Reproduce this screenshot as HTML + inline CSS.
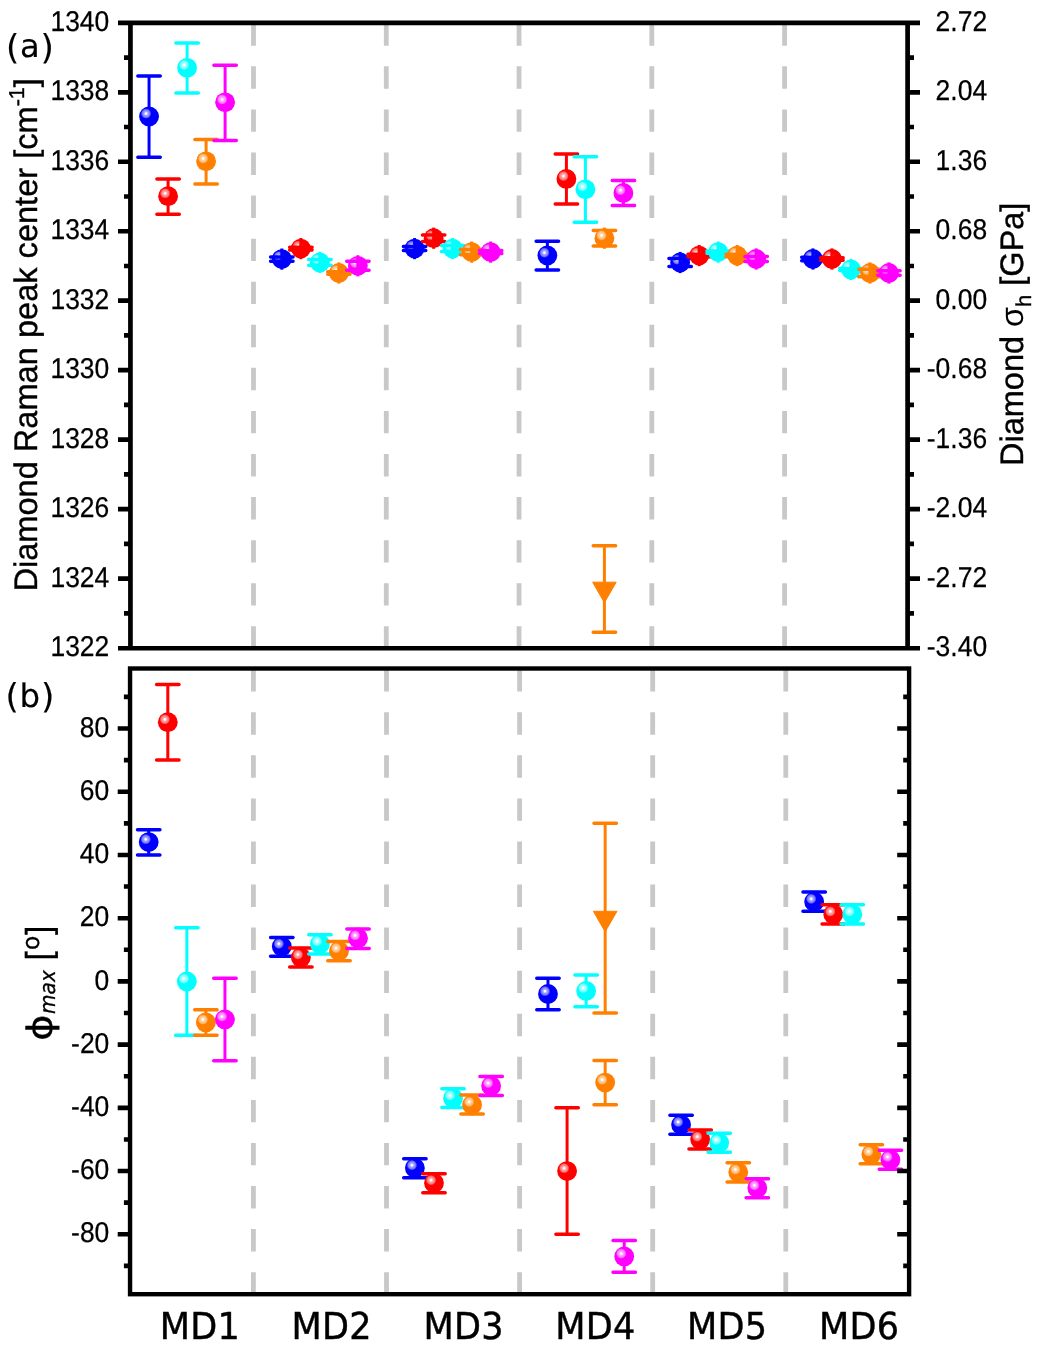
<!DOCTYPE html>
<html lang="en"><head><meta charset="utf-8"><title>Diamond Raman peak center and phi max</title>
<style>html,body{margin:0;padding:0;background:#fff}svg{display:block}.a{font-family:"Liberation Sans",Arial,sans-serif}.d{font-family:"DejaVu Sans",Verdana,sans-serif}</style></head><body>
<svg width="1042" height="1348" viewBox="0 0 1042 1348" text-rendering="geometricPrecision">
<defs><radialGradient id="hl" cx="0.5" cy="0.5" r="0.5"><stop offset="0" stop-color="#fff" stop-opacity="1"/><stop offset="0.13" stop-color="#fff" stop-opacity="1"/><stop offset="0.36" stop-color="#fff" stop-opacity="0.66"/><stop offset="0.72" stop-color="#fff" stop-opacity="0.47"/><stop offset="1" stop-color="#fff" stop-opacity="0"/></radialGradient></defs>
<rect width="1042" height="1348" fill="#fff"/>
<g stroke="#c8c8c8" stroke-width="4.8" stroke-dasharray="22.4 20.67" fill="none">
<path d="M253.5 23.3V648.25"/>
<path d="M253.41 669.2V1294.2"/>
<path d="M386.27 23.3V648.25"/>
<path d="M386.5 669.2V1294.2"/>
<path d="M519.04 23.3V648.25"/>
<path d="M519.6 669.2V1294.2"/>
<path d="M651.81 23.3V648.25"/>
<path d="M652.69 669.2V1294.2"/>
<path d="M784.58 23.3V648.25"/>
<path d="M785.78 669.2V1294.2"/>
</g>
<g id="top-data">
<path d="M149.05 76V157.2" stroke="#0000ff" stroke-width="3" fill="none"/><path d="M137.85 76H160.25 M137.85 157.2H160.25" stroke="#0000ff" stroke-width="3.5" stroke-linecap="round" fill="none"/><circle cx="149.05" cy="116.4" r="9.9" fill="#0000ff"/><circle cx="146.1" cy="113.55" r="5.3" fill="url(#hl)"/>
<circle cx="281.82" cy="259.1" r="9.9" fill="#0000ff"/><circle cx="278.87" cy="256.25" r="5.3" fill="url(#hl)"/><path d="M281.82 248.5V269.7" stroke="#0000ff" stroke-width="3" fill="none"/><path d="M270.62 257.05H293.02 M270.62 261.15H293.02" stroke="#0000ff" stroke-width="3.5" stroke-linecap="round" fill="none"/>
<circle cx="414.59" cy="248.6" r="9.9" fill="#0000ff"/><circle cx="411.64" cy="245.75" r="5.3" fill="url(#hl)"/><path d="M414.59 238V259.2" stroke="#0000ff" stroke-width="3" fill="none"/><path d="M403.39 246.6H425.79 M403.39 250.6H425.79" stroke="#0000ff" stroke-width="3.5" stroke-linecap="round" fill="none"/>
<path d="M547.36 241.3V270.1" stroke="#0000ff" stroke-width="3" fill="none"/><path d="M536.16 241.3H558.56 M536.16 270.1H558.56" stroke="#0000ff" stroke-width="3.5" stroke-linecap="round" fill="none"/><circle cx="547.36" cy="255.5" r="9.9" fill="#0000ff"/><circle cx="544.41" cy="252.65" r="5.3" fill="url(#hl)"/>
<circle cx="680.13" cy="262.5" r="9.9" fill="#0000ff"/><circle cx="677.18" cy="259.65" r="5.3" fill="url(#hl)"/><path d="M680.13 251.9V273.1" stroke="#0000ff" stroke-width="3" fill="none"/><path d="M668.93 258.4H691.33 M668.93 266.6H691.33" stroke="#0000ff" stroke-width="3.5" stroke-linecap="round" fill="none"/>
<circle cx="812.9" cy="259" r="9.9" fill="#0000ff"/><circle cx="809.95" cy="256.15" r="5.3" fill="url(#hl)"/><path d="M812.9 248.4V269.6" stroke="#0000ff" stroke-width="3" fill="none"/><path d="M801.7 257.3H824.1 M801.7 260.7H824.1" stroke="#0000ff" stroke-width="3.5" stroke-linecap="round" fill="none"/>
<path d="M168.1 179V214.3" stroke="#ff0000" stroke-width="3" fill="none"/><path d="M156.9 179H179.3 M156.9 214.3H179.3" stroke="#ff0000" stroke-width="3.5" stroke-linecap="round" fill="none"/><circle cx="168.1" cy="196.2" r="9.9" fill="#ff0000"/><circle cx="165.15" cy="193.35" r="5.3" fill="url(#hl)"/>
<circle cx="300.87" cy="248.6" r="9.9" fill="#ff0000"/><circle cx="297.92" cy="245.75" r="5.3" fill="url(#hl)"/><path d="M300.87 238V259.2" stroke="#ff0000" stroke-width="3" fill="none"/><path d="M289.67 247.2H312.07 M289.67 250H312.07" stroke="#ff0000" stroke-width="3.5" stroke-linecap="round" fill="none"/>
<circle cx="433.64" cy="238.2" r="9.9" fill="#ff0000"/><circle cx="430.69" cy="235.35" r="5.3" fill="url(#hl)"/><path d="M433.64 227.6V248.8" stroke="#ff0000" stroke-width="3" fill="none"/><path d="M422.44 234.9H444.84 M422.44 241.5H444.84" stroke="#ff0000" stroke-width="3.5" stroke-linecap="round" fill="none"/>
<path d="M566.41 154.05V203.9" stroke="#ff0000" stroke-width="3" fill="none"/><path d="M555.21 154.05H577.61 M555.21 203.9H577.61" stroke="#ff0000" stroke-width="3.5" stroke-linecap="round" fill="none"/><circle cx="566.41" cy="178.9" r="9.9" fill="#ff0000"/><circle cx="563.46" cy="176.05" r="5.3" fill="url(#hl)"/>
<circle cx="699.18" cy="255.55" r="9.9" fill="#ff0000"/><circle cx="696.23" cy="252.7" r="5.3" fill="url(#hl)"/><path d="M699.18 244.95V266.15" stroke="#ff0000" stroke-width="3" fill="none"/><path d="M687.98 254.35H710.38 M687.98 256.75H710.38" stroke="#ff0000" stroke-width="3.5" stroke-linecap="round" fill="none"/>
<circle cx="831.95" cy="259" r="9.9" fill="#ff0000"/><circle cx="829" cy="256.15" r="5.3" fill="url(#hl)"/><path d="M831.95 248.4V269.6" stroke="#ff0000" stroke-width="3" fill="none"/><path d="M820.75 257.8H843.15 M820.75 260.2H843.15" stroke="#ff0000" stroke-width="3.5" stroke-linecap="round" fill="none"/>
<path d="M187.1 43.1V92.9" stroke="#00ffff" stroke-width="3" fill="none"/><path d="M175.9 43.1H198.3 M175.9 92.9H198.3" stroke="#00ffff" stroke-width="3.5" stroke-linecap="round" fill="none"/><circle cx="187.1" cy="67.8" r="9.9" fill="#00ffff"/><circle cx="184.15" cy="64.95" r="5.3" fill="url(#hl)"/>
<circle cx="319.87" cy="262.4" r="9.9" fill="#00ffff"/><circle cx="316.92" cy="259.55" r="5.3" fill="url(#hl)"/><path d="M319.87 251.8V273" stroke="#00ffff" stroke-width="3" fill="none"/><path d="M308.67 259.6H331.07 M308.67 265.2H331.07" stroke="#00ffff" stroke-width="3.5" stroke-linecap="round" fill="none"/>
<circle cx="452.64" cy="248.6" r="9.9" fill="#00ffff"/><circle cx="449.69" cy="245.75" r="5.3" fill="url(#hl)"/><path d="M452.64 238V259.2" stroke="#00ffff" stroke-width="3" fill="none"/><path d="M441.44 245.6H463.84 M441.44 251.6H463.84" stroke="#00ffff" stroke-width="3.5" stroke-linecap="round" fill="none"/>
<path d="M585.41 156.8V222.2" stroke="#00ffff" stroke-width="3" fill="none"/><path d="M574.21 156.8H596.61 M574.21 222.2H596.61" stroke="#00ffff" stroke-width="3.5" stroke-linecap="round" fill="none"/><circle cx="585.41" cy="189.3" r="9.9" fill="#00ffff"/><circle cx="582.46" cy="186.45" r="5.3" fill="url(#hl)"/>
<circle cx="718.18" cy="252.1" r="9.9" fill="#00ffff"/><circle cx="715.23" cy="249.25" r="5.3" fill="url(#hl)"/><path d="M718.18 241.5V262.7" stroke="#00ffff" stroke-width="3" fill="none"/><path d="M706.98 250.9H729.38 M706.98 253.3H729.38" stroke="#00ffff" stroke-width="3.5" stroke-linecap="round" fill="none"/>
<circle cx="850.95" cy="269.5" r="9.9" fill="#00ffff"/><circle cx="848" cy="266.65" r="5.3" fill="url(#hl)"/><path d="M850.95 258.9V280.1" stroke="#00ffff" stroke-width="3" fill="none"/><path d="M839.75 268.5H862.15 M839.75 270.5H862.15" stroke="#00ffff" stroke-width="3.5" stroke-linecap="round" fill="none"/>
<path d="M206.1 139.5V184" stroke="#ff8000" stroke-width="3" fill="none"/><path d="M194.9 139.5H217.3 M194.9 184H217.3" stroke="#ff8000" stroke-width="3.5" stroke-linecap="round" fill="none"/><circle cx="206.1" cy="161.3" r="9.9" fill="#ff8000"/><circle cx="203.15" cy="158.45" r="5.3" fill="url(#hl)"/>
<circle cx="338.87" cy="273" r="9.9" fill="#ff8000"/><circle cx="335.92" cy="270.15" r="5.3" fill="url(#hl)"/><path d="M338.87 262.4V283.6" stroke="#ff8000" stroke-width="3" fill="none"/><path d="M327.67 271.7H350.07 M327.67 274.3H350.07" stroke="#ff8000" stroke-width="3.5" stroke-linecap="round" fill="none"/>
<circle cx="471.64" cy="252.1" r="9.9" fill="#ff8000"/><circle cx="468.69" cy="249.25" r="5.3" fill="url(#hl)"/><path d="M471.64 241.5V262.7" stroke="#ff8000" stroke-width="3" fill="none"/><path d="M460.44 249.5H482.84 M460.44 254.7H482.84" stroke="#ff8000" stroke-width="3.5" stroke-linecap="round" fill="none"/>
<path d="M604.41 227.6V248.8" stroke="#ff8000" stroke-width="3" fill="none"/><path d="M593.21 230.4H615.61 M593.21 246.1H615.61" stroke="#ff8000" stroke-width="3.5" stroke-linecap="round" fill="none"/><circle cx="604.41" cy="238.2" r="9.9" fill="#ff8000"/><circle cx="601.46" cy="235.35" r="5.3" fill="url(#hl)"/>
<circle cx="737.18" cy="255.55" r="9.9" fill="#ff8000"/><circle cx="734.23" cy="252.7" r="5.3" fill="url(#hl)"/><path d="M737.18 244.95V266.15" stroke="#ff8000" stroke-width="3" fill="none"/><path d="M725.98 254.35H748.38 M725.98 256.75H748.38" stroke="#ff8000" stroke-width="3.5" stroke-linecap="round" fill="none"/>
<circle cx="869.95" cy="273" r="9.9" fill="#ff8000"/><circle cx="867" cy="270.15" r="5.3" fill="url(#hl)"/><path d="M869.95 262.4V283.6" stroke="#ff8000" stroke-width="3" fill="none"/><path d="M858.75 269.3H881.15 M858.75 276.7H881.15" stroke="#ff8000" stroke-width="3.5" stroke-linecap="round" fill="none"/>
<path d="M604.41 545.8V632.3" stroke="#ff8000" stroke-width="3" fill="none"/><path d="M593.21 545.8H615.61 M593.21 632.3H615.61" stroke="#ff8000" stroke-width="3.5" stroke-linecap="round" fill="none"/><path d="M592.61 582.15H616.21L604.41 602.65Z" fill="#ff8000" stroke="#ff8000" stroke-width="1" stroke-linejoin="round"/>
<path d="M225.1 65.3V140.4" stroke="#ff00ff" stroke-width="3" fill="none"/><path d="M213.9 65.3H236.3 M213.9 140.4H236.3" stroke="#ff00ff" stroke-width="3.5" stroke-linecap="round" fill="none"/><circle cx="225.1" cy="102.3" r="9.9" fill="#ff00ff"/><circle cx="222.15" cy="99.45" r="5.3" fill="url(#hl)"/>
<circle cx="357.87" cy="265.8" r="9.9" fill="#ff00ff"/><circle cx="354.92" cy="262.95" r="5.3" fill="url(#hl)"/><path d="M357.87 255.2V276.4" stroke="#ff00ff" stroke-width="3" fill="none"/><path d="M346.67 261.3H369.07 M346.67 270.3H369.07" stroke="#ff00ff" stroke-width="3.5" stroke-linecap="round" fill="none"/>
<circle cx="490.64" cy="252.1" r="9.9" fill="#ff00ff"/><circle cx="487.69" cy="249.25" r="5.3" fill="url(#hl)"/><path d="M490.64 241.5V262.7" stroke="#ff00ff" stroke-width="3" fill="none"/><path d="M479.44 250.6H501.84 M479.44 253.6H501.84" stroke="#ff00ff" stroke-width="3.5" stroke-linecap="round" fill="none"/>
<path d="M623.41 180.5V205.6" stroke="#ff00ff" stroke-width="3" fill="none"/><path d="M612.21 180.5H634.61 M612.21 205.6H634.61" stroke="#ff00ff" stroke-width="3.5" stroke-linecap="round" fill="none"/><circle cx="623.41" cy="193" r="9.9" fill="#ff00ff"/><circle cx="620.46" cy="190.15" r="5.3" fill="url(#hl)"/>
<circle cx="756.18" cy="259" r="9.9" fill="#ff00ff"/><circle cx="753.23" cy="256.15" r="5.3" fill="url(#hl)"/><path d="M756.18 248.4V269.6" stroke="#ff00ff" stroke-width="3" fill="none"/><path d="M744.98 256.6H767.38 M744.98 261.4H767.38" stroke="#ff00ff" stroke-width="3.5" stroke-linecap="round" fill="none"/>
<circle cx="888.95" cy="273" r="9.9" fill="#ff00ff"/><circle cx="886" cy="270.15" r="5.3" fill="url(#hl)"/><path d="M888.95 262.4V283.6" stroke="#ff00ff" stroke-width="3" fill="none"/><path d="M877.75 270.8H900.15 M877.75 275.2H900.15" stroke="#ff00ff" stroke-width="3.5" stroke-linecap="round" fill="none"/>
</g>
<g id="bottom-data">
<path d="M148.71 829.8V855" stroke="#0000ff" stroke-width="3" fill="none"/><path d="M137.51 829.8H159.91 M137.51 855H159.91" stroke="#0000ff" stroke-width="3.5" stroke-linecap="round" fill="none"/><circle cx="148.71" cy="842.1" r="9.9" fill="#0000ff"/><circle cx="145.76" cy="839.25" r="5.3" fill="url(#hl)"/>
<path d="M281.8 936V957.2" stroke="#0000ff" stroke-width="3" fill="none"/><path d="M270.6 937.4H293 M270.6 956.3H293" stroke="#0000ff" stroke-width="3.5" stroke-linecap="round" fill="none"/><circle cx="281.8" cy="946.6" r="9.9" fill="#0000ff"/><circle cx="278.85" cy="943.75" r="5.3" fill="url(#hl)"/>
<path d="M414.89 1157.4V1178.6" stroke="#0000ff" stroke-width="3" fill="none"/><path d="M403.69 1158.7H426.09 M403.69 1177.7H426.09" stroke="#0000ff" stroke-width="3.5" stroke-linecap="round" fill="none"/><circle cx="414.89" cy="1168" r="9.9" fill="#0000ff"/><circle cx="411.94" cy="1165.15" r="5.3" fill="url(#hl)"/>
<path d="M547.98 978.2V1009.85" stroke="#0000ff" stroke-width="3" fill="none"/><path d="M536.78 978.2H559.18 M536.78 1009.85H559.18" stroke="#0000ff" stroke-width="3.5" stroke-linecap="round" fill="none"/><circle cx="547.98" cy="994" r="9.9" fill="#0000ff"/><circle cx="545.03" cy="991.15" r="5.3" fill="url(#hl)"/>
<path d="M681.08 1114.2V1135.4" stroke="#0000ff" stroke-width="3" fill="none"/><path d="M669.88 1115.3H692.28 M669.88 1134.3H692.28" stroke="#0000ff" stroke-width="3.5" stroke-linecap="round" fill="none"/><circle cx="681.08" cy="1124.8" r="9.9" fill="#0000ff"/><circle cx="678.13" cy="1121.95" r="5.3" fill="url(#hl)"/>
<path d="M814.17 891.1V912.3" stroke="#0000ff" stroke-width="3" fill="none"/><path d="M802.97 892.1H825.37 M802.97 911.2H825.37" stroke="#0000ff" stroke-width="3.5" stroke-linecap="round" fill="none"/><circle cx="814.17" cy="901.7" r="9.9" fill="#0000ff"/><circle cx="811.22" cy="898.85" r="5.3" fill="url(#hl)"/>
<path d="M167.8 684.5V760.1" stroke="#ff0000" stroke-width="3" fill="none"/><path d="M156.6 684.5H179 M156.6 760.1H179" stroke="#ff0000" stroke-width="3.5" stroke-linecap="round" fill="none"/><circle cx="167.8" cy="722.2" r="9.9" fill="#ff0000"/><circle cx="164.85" cy="719.35" r="5.3" fill="url(#hl)"/>
<path d="M300.89 946.8V968" stroke="#ff0000" stroke-width="3" fill="none"/><path d="M289.69 948H312.09 M289.69 967H312.09" stroke="#ff0000" stroke-width="3.5" stroke-linecap="round" fill="none"/><circle cx="300.89" cy="957.4" r="9.9" fill="#ff0000"/><circle cx="297.94" cy="954.55" r="5.3" fill="url(#hl)"/>
<path d="M433.99 1172.4V1193.6" stroke="#ff0000" stroke-width="3" fill="none"/><path d="M422.79 1173.8H445.19 M422.79 1192.7H445.19" stroke="#ff0000" stroke-width="3.5" stroke-linecap="round" fill="none"/><circle cx="433.99" cy="1183" r="9.9" fill="#ff0000"/><circle cx="431.04" cy="1180.15" r="5.3" fill="url(#hl)"/>
<path d="M567.08 1107.8V1234.3" stroke="#ff0000" stroke-width="3" fill="none"/><path d="M555.88 1107.8H578.28 M555.88 1234.3H578.28" stroke="#ff0000" stroke-width="3.5" stroke-linecap="round" fill="none"/><circle cx="567.08" cy="1171.1" r="9.9" fill="#ff0000"/><circle cx="564.13" cy="1168.25" r="5.3" fill="url(#hl)"/>
<path d="M700.17 1128.9V1150.1" stroke="#ff0000" stroke-width="3" fill="none"/><path d="M688.97 1130.1H711.37 M688.97 1149H711.37" stroke="#ff0000" stroke-width="3.5" stroke-linecap="round" fill="none"/><circle cx="700.17" cy="1139.5" r="9.9" fill="#ff0000"/><circle cx="697.22" cy="1136.65" r="5.3" fill="url(#hl)"/>
<path d="M833.27 903.7V924.9" stroke="#ff0000" stroke-width="3" fill="none"/><path d="M822.07 904.8H844.47 M822.07 923.9H844.47" stroke="#ff0000" stroke-width="3.5" stroke-linecap="round" fill="none"/><circle cx="833.27" cy="914.3" r="9.9" fill="#ff0000"/><circle cx="830.32" cy="911.45" r="5.3" fill="url(#hl)"/>
<path d="M186.85 927.7V1035.3" stroke="#00ffff" stroke-width="3" fill="none"/><path d="M175.65 927.7H198.05 M175.65 1035.3H198.05" stroke="#00ffff" stroke-width="3.5" stroke-linecap="round" fill="none"/><circle cx="186.85" cy="981.5" r="9.9" fill="#00ffff"/><circle cx="183.9" cy="978.65" r="5.3" fill="url(#hl)"/>
<path d="M319.94 933.4V954.6" stroke="#00ffff" stroke-width="3" fill="none"/><path d="M308.74 934.8H331.14 M308.74 954H331.14" stroke="#00ffff" stroke-width="3.5" stroke-linecap="round" fill="none"/><circle cx="319.94" cy="944" r="9.9" fill="#00ffff"/><circle cx="316.99" cy="941.15" r="5.3" fill="url(#hl)"/>
<path d="M453.03 1087.6V1108.8" stroke="#00ffff" stroke-width="3" fill="none"/><path d="M441.83 1088.8H464.23 M441.83 1107.6H464.23" stroke="#00ffff" stroke-width="3.5" stroke-linecap="round" fill="none"/><circle cx="453.03" cy="1098.2" r="9.9" fill="#00ffff"/><circle cx="450.08" cy="1095.35" r="5.3" fill="url(#hl)"/>
<path d="M586.13 975.1V1006.7" stroke="#00ffff" stroke-width="3" fill="none"/><path d="M574.93 975.1H597.33 M574.93 1006.7H597.33" stroke="#00ffff" stroke-width="3.5" stroke-linecap="round" fill="none"/><circle cx="586.13" cy="990.9" r="9.9" fill="#00ffff"/><circle cx="583.18" cy="988.05" r="5.3" fill="url(#hl)"/>
<path d="M719.22 1132.1V1153.3" stroke="#00ffff" stroke-width="3" fill="none"/><path d="M708.02 1133.2H730.42 M708.02 1152.2H730.42" stroke="#00ffff" stroke-width="3.5" stroke-linecap="round" fill="none"/><circle cx="719.22" cy="1142.7" r="9.9" fill="#00ffff"/><circle cx="716.27" cy="1139.85" r="5.3" fill="url(#hl)"/>
<path d="M852.31 903.7V924.9" stroke="#00ffff" stroke-width="3" fill="none"/><path d="M841.11 904.8H863.51 M841.11 923.9H863.51" stroke="#00ffff" stroke-width="3.5" stroke-linecap="round" fill="none"/><circle cx="852.31" cy="914.3" r="9.9" fill="#00ffff"/><circle cx="849.36" cy="911.45" r="5.3" fill="url(#hl)"/>
<path d="M205.89 1009.8V1035.3" stroke="#ff8000" stroke-width="3" fill="none"/><path d="M194.69 1009.8H217.09 M194.69 1035.3H217.09" stroke="#ff8000" stroke-width="3.5" stroke-linecap="round" fill="none"/><circle cx="205.89" cy="1022.4" r="9.9" fill="#ff8000"/><circle cx="202.94" cy="1019.55" r="5.3" fill="url(#hl)"/>
<path d="M338.99 940.3V961.5" stroke="#ff8000" stroke-width="3" fill="none"/><path d="M327.79 941.4H350.19 M327.79 960.7H350.19" stroke="#ff8000" stroke-width="3.5" stroke-linecap="round" fill="none"/><circle cx="338.99" cy="950.9" r="9.9" fill="#ff8000"/><circle cx="336.04" cy="948.05" r="5.3" fill="url(#hl)"/>
<path d="M472.08 1094.1V1115.3" stroke="#ff8000" stroke-width="3" fill="none"/><path d="M460.88 1095.1H483.28 M460.88 1114.1H483.28" stroke="#ff8000" stroke-width="3.5" stroke-linecap="round" fill="none"/><circle cx="472.08" cy="1104.7" r="9.9" fill="#ff8000"/><circle cx="469.13" cy="1101.85" r="5.3" fill="url(#hl)"/>
<path d="M605.17 1060.4V1104.7" stroke="#ff8000" stroke-width="3" fill="none"/><path d="M593.97 1060.4H616.37 M593.97 1104.7H616.37" stroke="#ff8000" stroke-width="3.5" stroke-linecap="round" fill="none"/><circle cx="605.17" cy="1082.55" r="9.9" fill="#ff8000"/><circle cx="602.22" cy="1079.7" r="5.3" fill="url(#hl)"/>
<path d="M738.27 1161.7V1182.9" stroke="#ff8000" stroke-width="3" fill="none"/><path d="M727.07 1162.8H749.47 M727.07 1181.9H749.47" stroke="#ff8000" stroke-width="3.5" stroke-linecap="round" fill="none"/><circle cx="738.27" cy="1172.3" r="9.9" fill="#ff8000"/><circle cx="735.32" cy="1169.45" r="5.3" fill="url(#hl)"/>
<path d="M871.36 1143.7V1164.9" stroke="#ff8000" stroke-width="3" fill="none"/><path d="M860.16 1144.8H882.56 M860.16 1163.8H882.56" stroke="#ff8000" stroke-width="3.5" stroke-linecap="round" fill="none"/><circle cx="871.36" cy="1154.3" r="9.9" fill="#ff8000"/><circle cx="868.41" cy="1151.45" r="5.3" fill="url(#hl)"/>
<path d="M605.17 823.35V1013" stroke="#ff8000" stroke-width="3" fill="none"/><path d="M593.97 823.35H616.37 M593.97 1013H616.37" stroke="#ff8000" stroke-width="3.5" stroke-linecap="round" fill="none"/><path d="M593.37 911.3H616.97L605.17 931.8Z" fill="#ff8000" stroke="#ff8000" stroke-width="1" stroke-linejoin="round"/>
<path d="M224.94 978.3V1060.7" stroke="#ff00ff" stroke-width="3" fill="none"/><path d="M213.74 978.3H236.14 M213.74 1060.7H236.14" stroke="#ff00ff" stroke-width="3.5" stroke-linecap="round" fill="none"/><circle cx="224.94" cy="1019.4" r="9.9" fill="#ff00ff"/><circle cx="221.99" cy="1016.55" r="5.3" fill="url(#hl)"/>
<path d="M358.03 927.6V948.8" stroke="#ff00ff" stroke-width="3" fill="none"/><path d="M346.83 929H369.23 M346.83 948.4H369.23" stroke="#ff00ff" stroke-width="3.5" stroke-linecap="round" fill="none"/><circle cx="358.03" cy="938.2" r="9.9" fill="#ff00ff"/><circle cx="355.08" cy="935.35" r="5.3" fill="url(#hl)"/>
<path d="M491.13 1075.3V1096.5" stroke="#ff00ff" stroke-width="3" fill="none"/><path d="M479.93 1076.4H502.33 M479.93 1095.5H502.33" stroke="#ff00ff" stroke-width="3.5" stroke-linecap="round" fill="none"/><circle cx="491.13" cy="1085.9" r="9.9" fill="#ff00ff"/><circle cx="488.18" cy="1083.05" r="5.3" fill="url(#hl)"/>
<path d="M624.22 1240.6V1272.2" stroke="#ff00ff" stroke-width="3" fill="none"/><path d="M613.02 1240.6H635.42 M613.02 1272.2H635.42" stroke="#ff00ff" stroke-width="3.5" stroke-linecap="round" fill="none"/><circle cx="624.22" cy="1256.4" r="9.9" fill="#ff00ff"/><circle cx="621.27" cy="1253.55" r="5.3" fill="url(#hl)"/>
<path d="M757.31 1177.5V1198.7" stroke="#ff00ff" stroke-width="3" fill="none"/><path d="M746.11 1178.7H768.51 M746.11 1197.7H768.51" stroke="#ff00ff" stroke-width="3.5" stroke-linecap="round" fill="none"/><circle cx="757.31" cy="1188.1" r="9.9" fill="#ff00ff"/><circle cx="754.36" cy="1185.25" r="5.3" fill="url(#hl)"/>
<path d="M890.4 1149.1V1170.3" stroke="#ff00ff" stroke-width="3" fill="none"/><path d="M879.2 1150.2H901.6 M879.2 1169.3H901.6" stroke="#ff00ff" stroke-width="3.5" stroke-linecap="round" fill="none"/><circle cx="890.4" cy="1159.7" r="9.9" fill="#ff00ff"/><circle cx="887.45" cy="1156.85" r="5.3" fill="url(#hl)"/>
</g>
<g stroke="#000" fill="none" stroke-width="4.7">
<path d="M130.44 22.8V648.25 M907.6 22.8V648.25"/>
<path d="M118 22.8H920 M118 648.25H920"/>
<path d="M118 92.28H130.44 M907.6 92.28H920 M118 161.76H130.44 M907.6 161.76H920 M118 231.24H130.44 M907.6 231.24H920 M118 300.72H130.44 M907.6 300.72H920 M118 370.2H130.44 M907.6 370.2H920 M118 439.68H130.44 M907.6 439.68H920 M118 509.16H130.44 M907.6 509.16H920 M118 578.64H130.44 M907.6 578.64H920 M124 57.54H130.44 M907.6 57.54H914 M124 127.02H130.44 M907.6 127.02H914 M124 196.5H130.44 M907.6 196.5H914 M124 265.98H130.44 M907.6 265.98H914 M124 335.46H130.44 M907.6 335.46H914 M124 404.94H130.44 M907.6 404.94H914 M124 474.42H130.44 M907.6 474.42H914 M124 543.9H130.44 M907.6 543.9H914 M124 613.38H130.44 M907.6 613.38H914"/>
</g>
<g stroke="#000" fill="none" stroke-width="4.4">
<rect x="130.05" y="668.5" width="779.05" height="625.7"/>
<path stroke-width="4.6" d="M117.7 1234.28H130.05 M909.1 1234.28H897.2 M117.7 1171.06H130.05 M909.1 1171.06H897.2 M117.7 1107.84H130.05 M909.1 1107.84H897.2 M117.7 1044.62H130.05 M909.1 1044.62H897.2 M117.7 981.4H130.05 M909.1 981.4H897.2 M117.7 918.18H130.05 M909.1 918.18H897.2 M117.7 854.96H130.05 M909.1 854.96H897.2 M117.7 791.74H130.05 M909.1 791.74H897.2 M117.7 728.52H130.05 M909.1 728.52H897.2 M123.9 1265.89H130.05 M909.1 1265.89H903.2 M123.9 1202.67H130.05 M909.1 1202.67H903.2 M123.9 1139.45H130.05 M909.1 1139.45H903.2 M123.9 1076.23H130.05 M909.1 1076.23H903.2 M123.9 1013.01H130.05 M909.1 1013.01H903.2 M123.9 949.79H130.05 M909.1 949.79H903.2 M123.9 886.57H130.05 M909.1 886.57H903.2 M123.9 823.35H130.05 M909.1 823.35H903.2 M123.9 760.13H130.05 M909.1 760.13H903.2 M123.9 696.91H130.05 M909.1 696.91H903.2"/>
</g>
<g class="a" font-size="28.6" fill="#000" stroke="#000" stroke-width="0.25" text-anchor="end">
<text transform="translate(109.3 30.9) scale(0.925 1)">1340</text>
<text transform="translate(109.3 100.38) scale(0.925 1)">1338</text>
<text transform="translate(109.3 169.86) scale(0.925 1)">1336</text>
<text transform="translate(109.3 239.34) scale(0.925 1)">1334</text>
<text transform="translate(109.3 308.82) scale(0.925 1)">1332</text>
<text transform="translate(109.3 378.3) scale(0.925 1)">1330</text>
<text transform="translate(109.3 447.78) scale(0.925 1)">1328</text>
<text transform="translate(109.3 517.26) scale(0.925 1)">1326</text>
<text transform="translate(109.3 586.74) scale(0.925 1)">1324</text>
<text transform="translate(109.3 656.22) scale(0.925 1)">1322</text>
<text transform="translate(109.3 736.62) scale(0.925 1)">80</text>
<text transform="translate(109.3 799.84) scale(0.925 1)">60</text>
<text transform="translate(109.3 863.06) scale(0.925 1)">40</text>
<text transform="translate(109.3 926.28) scale(0.925 1)">20</text>
<text transform="translate(109.3 989.5) scale(0.925 1)">0</text>
<text transform="translate(109.3 1052.72) scale(0.925 1)">-20</text>
<text transform="translate(109.3 1115.94) scale(0.925 1)">-40</text>
<text transform="translate(109.3 1179.16) scale(0.925 1)">-60</text>
<text transform="translate(109.3 1242.38) scale(0.925 1)">-80</text>
<text transform="translate(987.1 30.9) scale(0.925 1)">2.72</text>
<text transform="translate(987.1 100.38) scale(0.925 1)">2.04</text>
<text transform="translate(987.1 169.86) scale(0.925 1)">1.36</text>
<text transform="translate(987.1 239.34) scale(0.925 1)">0.68</text>
<text transform="translate(987.1 308.82) scale(0.925 1)">0.00</text>
<text transform="translate(987.1 378.3) scale(0.925 1)">-0.68</text>
<text transform="translate(987.1 447.78) scale(0.925 1)">-1.36</text>
<text transform="translate(987.1 517.26) scale(0.925 1)">-2.04</text>
<text transform="translate(987.1 586.74) scale(0.925 1)">-2.72</text>
<text transform="translate(987.1 656.22) scale(0.925 1)">-3.40</text>
</g>
<text class="a" font-size="32.6" stroke="#000" stroke-width="0.4" transform="translate(37.3 591.6) rotate(-90)">Diamond Raman peak center [cm<tspan font-size="21.5" dy="-13.5">-1</tspan><tspan dy="13.5">]</tspan></text>
<text class="a" font-size="32.5" stroke="#000" stroke-width="0.4" transform="translate(1023 466) rotate(-90)">Diamond <tspan stroke="none">σ</tspan><tspan font-size="21.5" dy="8">h</tspan><tspan dy="-8"> [GPa]</tspan></text>
<g class="d" transform="translate(52.6 1039) rotate(-90)" fill="#000" stroke="#000" stroke-width="0.28">
<text font-size="34" transform="translate(-2.0 -1.0) scale(1.19 1.03)">ϕ</text>
<text font-size="21.5" font-style="italic" x="25" y="2.6" textLength="43.8" lengthAdjust="spacingAndGlyphs">max</text>
<text font-size="37" transform="translate(78.3 0.4) scale(0.86 1)">[</text>
<text font-size="23.5" x="89" y="-13.9">o</text>
<text font-size="37" transform="translate(101.2 0.4) scale(0.86 1)">]</text>
</g>
<g class="d" font-size="34.5" fill="#000" stroke="#000" stroke-width="0.45">
<text x="5.9" y="59" font-size="34.2" stroke-width="0.15">(<tspan font-size="32.2" dx="0.8" dy="-2.1">a</tspan><tspan dx="0.8" dy="2.1">)</tspan></text><text x="5.4" y="708.3" font-size="34.2" stroke-width="0.15">(<tspan font-size="32.4" dx="0.8" dy="-1.3">b</tspan><tspan dx="0.8" dy="1.3">)</tspan></text>
<g font-size="37" letter-spacing="0.3">
<text transform="translate(159.7 1338.6) scale(0.947 1)">MD1</text>
<text transform="translate(291.54 1338.6) scale(0.947 1)">MD2</text>
<text transform="translate(423.38 1338.6) scale(0.947 1)">MD3</text>
<text transform="translate(555.22 1338.6) scale(0.947 1)">MD4</text>
<text transform="translate(687.06 1338.6) scale(0.947 1)">MD5</text>
<text transform="translate(818.9 1338.6) scale(0.947 1)">MD6</text>
</g>
</g>
</svg></body></html>
